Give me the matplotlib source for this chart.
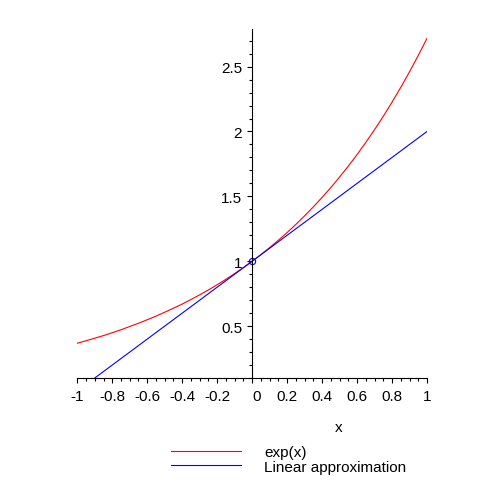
import matplotlib
matplotlib.use("Agg")
import matplotlib.pyplot as plt
from matplotlib.ticker import MultipleLocator

plt.rcParams['font.family'] = ['Liberation Sans', 'DejaVu Sans']

# values
x_exp = [-1.0, -0.95, -0.9, -0.85, -0.8, -0.75, -0.7, -0.65, -0.6, -0.55,
         -0.5, -0.45, -0.4, -0.35, -0.3, -0.25, -0.2, -0.15, -0.1, -0.05,
         0.0, 0.05, 0.1, 0.15, 0.2, 0.25, 0.3, 0.35, 0.4, 0.45,
         0.5, 0.55, 0.6, 0.65, 0.7, 0.75, 0.8, 0.85, 0.9, 0.95, 1.0]
y_exp = [0.368, 0.387, 0.407, 0.427, 0.449, 0.472, 0.497, 0.522, 0.549, 0.577,
         0.607, 0.638, 0.670, 0.705, 0.741, 0.779, 0.819, 0.861, 0.905, 0.951,
         1.000, 1.051, 1.105, 1.162, 1.221, 1.284, 1.350, 1.419, 1.492, 1.568,
         1.649, 1.733, 1.822, 1.916, 2.014, 2.117, 2.226, 2.340, 2.460, 2.586,
         2.718]
x_lin = [-0.9, 1.0]
y_lin = [0.1, 2.0]
point_x = [0.0]
point_y = [1.0]
x_ticks = [-1, -0.8, -0.6, -0.4, -0.2, 0, 0.2, 0.4, 0.6, 0.8, 1]
x_ticklabels = ["-1", "-0.8", "-0.6", "-0.4", "-0.2", "0", "0.2", "0.4",
                "0.6", "0.8", "1"]
y_ticks = [0.5, 1, 1.5, 2, 2.5]
y_ticklabels = ["0.5", "1", "1.5", "2", "2.5"]

fig = plt.figure(figsize=(5.02, 5.02), dpi=100)
ax = fig.add_axes([77.3 / 502, 1 - 379 / 502, (427 - 77.3) / 502, (379 - 30) / 502])

l1, = ax.plot(x_exp, y_exp, color="#ff0000", linewidth=0.8, label="exp(x)")
l2, = ax.plot(x_lin, y_lin, color="#0000ff", linewidth=0.8,
              label="Linear approximation")
ax.plot(point_x, point_y, "o", mfc="none", mec="#0000ff", ms=4.5, mew=0.8)

ax.set_xlim(-1, 1)
ax.set_ylim(0.1, 2.79)

for s in ("top", "right"):
    ax.spines[s].set_visible(False)
ax.spines["left"].set_position(("data", 0))

ax.set_xticks(x_ticks)
ax.set_xticklabels(x_ticklabels)
ax.set_yticks(y_ticks)
ax.set_yticklabels(y_ticklabels)
ax.xaxis.set_minor_locator(MultipleLocator(0.05))
ax.yaxis.set_minor_locator(MultipleLocator(0.1))
ax.tick_params(axis="both", which="major", direction="out", length=3.6,
               width=0.8, labelsize=11)
ax.tick_params(axis="both", which="minor", direction="out", length=2,
               width=0.8)
ax.tick_params(axis="x", which="major", pad=4.3)
ax.tick_params(axis="y", which="major", pad=3.6)
for lab in ax.get_xticklabels():
    if lab.get_text() == "0":
        lab.set_horizontalalignment("left")

fig.text(339 / 502, 1 - 428 / 502, "x", fontsize=11, ha="center", va="center")

fig.legend(handles=[l1, l2], loc="upper left",
           bbox_to_anchor=(171 / 502, 1 - 446 / 502), frameon=False,
           fontsize=11, handlelength=4.6, handletextpad=1.5,
           labelspacing=0.05, borderpad=0, borderaxespad=0)

fig.savefig("out.png", dpi=100)
